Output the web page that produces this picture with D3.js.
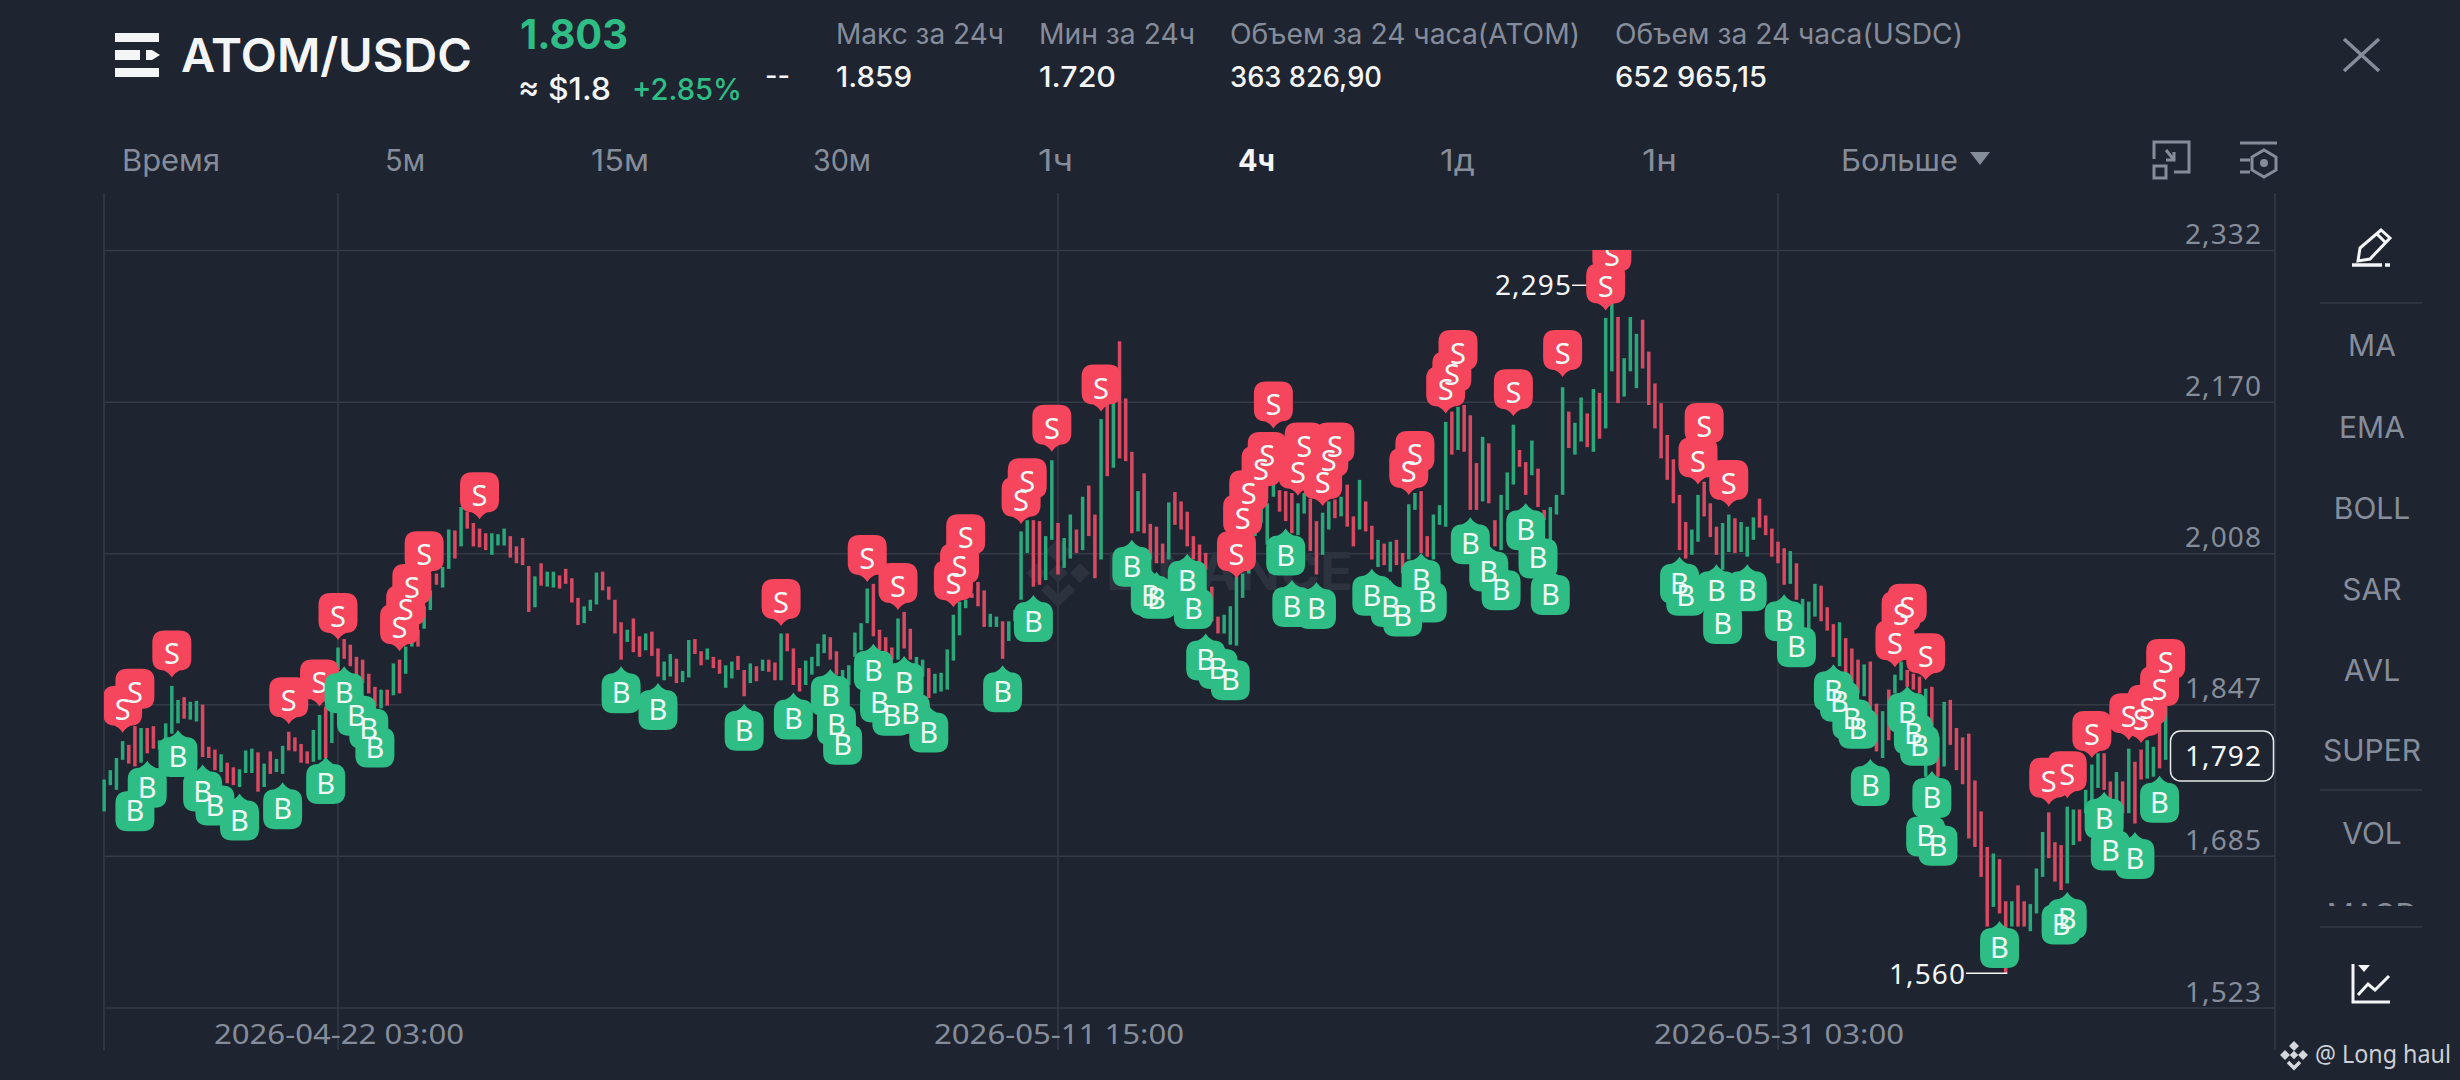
<!DOCTYPE html>
<html><head><meta charset="utf-8">
<style>html,body{margin:0;padding:0;background:#1e2430;overflow:hidden}svg{display:block}</style>
<script src="https://cdn.jsdelivr.net/npm/d3@7"></script></head><body>
<svg id="c" width="2460" height="1080"></svg>
<script>
const priceTicks=[2332,2170,2008,1847,1685,1523];
const timeLabels=["2026-04-22 03:00","2026-05-11 15:00","2026-05-31 03:00"];
const timeIdx=[38,155,272];
const candleHigh=[1767,1777,1790,1808,1804,1824,1822,1822,1824,1809,
1827,1867,1852,1855,1850,1851,1847,1802,1799,1794,
1785,1780,1778,1798,1800,1796,1784,1797,1789,1803,
1818,1812,1805,1797,1820,1836,1845,1843,1908,1917,
1911,1898,1895,1880,1866,1863,1863,1891,1895,1909,
1920,1927,1952,1969,1987,1994,2034,2033,2058,2053,
2041,2035,2030,2030,2029,2035,2027,2016,2025,1995,
1984,1998,1989,1989,1985,1992,1982,1961,1952,1959,
1988,1989,1973,1959,1935,1927,1939,1920,1923,1925,
1907,1893,1901,1896,1883,1916,1917,1904,1907,1898,
1895,1889,1893,1899,1884,1891,1888,1895,1895,1892,
1923,1923,1907,1886,1894,1898,1912,1922,1919,1904,
1884,1889,1924,1934,1971,1976,1927,1919,1908,1939,
1946,1928,1898,1895,1886,1880,1881,1906,1943,1957,
1959,1966,1978,1969,1944,1941,1936,1936,1948,2032,
2044,2044,2043,2027,2108,2041,2025,2050,2034,2069,
2081,2050,2152,2169,2172,2235,2174,2117,2075,2094,
2040,2037,2019,2063,2074,2064,2053,2027,2018,2009,
1973,1941,1943,1952,1984,1987,2030,2044,2073,2062,
2082,2076,2075,2073,2062,2073,2067,2043,2052,2064,
2066,2069,2082,2048,2087,2064,2038,2023,2019,2021,
2023,2009,2061,2073,2075,2027,2050,2060,2149,2160,
2165,2167,2156,2105,2133,2126,2044,2071,2095,2146,
2119,2106,2129,2099,2055,2058,2071,2186,2160,2148,
2175,2158,2184,2180,2260,2295,2261,2217,2261,2243,
2258,2224,2190,2169,2135,2109,2071,2042,2034,2071,
2085,2062,2037,2041,2050,2046,2042,2037,2047,2067,
2049,2035,2021,2014,2011,1998,1960,1957,1976,1974,
1951,1933,1935,1918,1907,1895,1890,1893,1848,1840,
1863,1879,1893,1884,1880,1877,1864,1866,1813,1850,
1852,1822,1812,1816,1766,1733,1695,1688,1682,1637,
1637,1654,1637,1634,1672,1711,1732,1700,1697,1738,
1735,1735,1756,1783,1795,1795,1765,1775,1765,1800,
1786,1799,1809,1802,1845,1845];
const candleLow=[1733,1761,1756,1788,1784,1781,1785,1795,1800,1799,
1809,1816,1827,1832,1831,1829,1791,1790,1777,1775,
1763,1761,1759,1774,1774,1754,1759,1773,1775,1773,
1798,1797,1785,1784,1786,1788,1790,1806,1884,1896,
1888,1877,1870,1859,1845,1843,1846,1857,1859,1880,
1909,1909,1928,1948,1975,1972,1992,2003,2016,2035,
2016,2015,2012,2007,2017,2017,2004,1998,1996,1946,
1951,1974,1973,1972,1971,1976,1956,1932,1934,1947,
1954,1969,1959,1923,1895,1914,1903,1898,1905,1899,
1877,1873,1877,1870,1871,1876,1901,1889,1895,1886,
1880,1865,1875,1884,1856,1870,1872,1883,1882,1873,
1873,1904,1868,1861,1868,1879,1888,1902,1895,1879,
1870,1868,1898,1905,1934,1920,1905,1902,1895,1895,
1907,1895,1888,1877,1854,1859,1861,1863,1894,1921,
1950,1961,1952,1930,1930,1930,1896,1915,1936,1959,
2009,1973,1975,1980,2023,1986,1993,2003,2009,2012,
2027,1982,2002,2091,2100,2110,2107,2030,2032,2030,
2002,1998,1998,2002,2039,2034,2016,2002,1996,1991,
1936,1923,1923,1911,1910,1961,1987,2027,2041,2018,
2069,2053,2043,2030,2028,2051,2011,1986,2007,2034,
2046,2048,2037,2016,2034,2032,2002,1994,1996,1989,
1996,1987,2002,2055,2009,2005,2002,2039,2037,2114,
2119,2117,2055,2055,2064,2062,2016,2012,2055,2082,
2101,2071,2092,2058,2044,2016,2050,2071,2121,2114,
2128,2122,2117,2131,2142,2203,2169,2176,2203,2185,
2206,2167,2142,2110,2087,2062,2012,2003,2007,2021,
2048,2026,2007,1991,2010,2009,2010,2005,2023,2036,
2028,2005,1998,1975,1976,1959,1930,1927,1941,1936,
1926,1898,1888,1877,1864,1859,1856,1841,1797,1790,
1809,1859,1873,1866,1863,1859,1770,1813,1770,1781,
1804,1777,1762,1704,1695,1663,1610,1631,1624,1560,
1610,1610,1610,1605,1624,1663,1683,1658,1649,1656,
1697,1701,1731,1745,1758,1756,1745,1735,1731,1731,
1720,1767,1768,1770,1779,1788];
const candleDir=("GGGGRRGRRG"+"GGGRGGRRRG"+"RRGGGRGRGG"+"RRRRGGRGGR"+"RRRRRGRGRG"+"GRGGRGGRGR"+"RRRGGGRRRR"+"GRGGRRRRGG"+"GRRRRGRRGR"+"RGGRGGRRGR"+"RGGRRGRGRR"+"GRRRGGGGRR"+"GGGGGRRRRG"+"RRGGRGGGGG"+"GRRRGGRGGG"+"GRRGGRGGRG"+"RRGRGRRRGR"+"RRRGRRRRRR"+"RRGGGGGGGG"+"GRRRGGRRGG"+"RGRRGRRGRG"+"RRGGRRGGGR"+"GRRRGRRGGG"+"RRGRRGGGRG"+"GRGRGGRGGG"+"RRRRRRRRGG"+"RRRGGRGGGR"+"RRRRGRGGGR"+"RRGRRRGRRG"+"RGGRRRGRRG"+"RRRRRRRGRR"+"GRRGGGRRRG"+"GRGGGRRGRG"+"RRGGRG").split("");
const sellIdx=[3,5,11,30,35,38,48,49,50,52,61,110,124,129,138,139,140,149,150,154,162,184,185,186,188,189,190,194,195,198,199,200,212,213,218,219,220,229,237,244,245,259,260,264,291,292,293,296,316,319,323,329,331,332,334,335];
const sellPrice=[1817,1835,1876,1826,1845,1916,1904,1924,1947,1982,2045,1931,1978,1948,1951,1969,2000,2040,2060,2117,2160,1982,2021,2047,2073,2088,2142,2070,2098,2059,2083,2098,2071,2089,2158,2174,2197,2155,2197,2268,2302,2082,2119,2058,1887,1918,1926,1873,1740,1747,1790,1809,1806,1818,1838,1867];
const buyIdx=[5,7,12,16,18,22,29,36,39,41,43,44,84,90,104,112,118,119,120,125,126,128,130,131,134,146,151,167,170,171,176,177,179,181,183,192,193,197,206,209,211,214,215,222,225,227,231,233,235,256,257,262,263,267,273,275,281,282,284,285,287,293,294,295,296,297,298,308,318,319,325,326,330,334];
const buyPrice=[1762,1787,1820,1783,1768,1752,1764,1791,1888,1864,1850,1830,1888,1870,1848,1860,1885,1854,1833,1912,1878,1864,1899,1866,1846,1889,1964,2023,1992,1989,2008,1978,1923,1914,1902,2035,1980,1978,1992,1980,1970,2009,1985,2047,2018,1998,2062,2032,1993,2005,1992,1997,1962,1997,1965,1937,1890,1879,1860,1850,1789,1867,1844,1832,1735,1776,1725,1616,1641,1647,1754,1720,1711,1771];
const indicatorLabels=["MA","EMA","BOLL","SAR","AVL","SUPER","VOL","MACD"];
const tabLabels=["Время","5м","15м","30м","1ч","4ч","1д","1н","Больше"];
const lastPrice=1792, highPrice=2295, lowPrice=1560, highIdx=245, lowIdx=309;

const BG="#1e2430",GRID="#343a46",GRAY="#868d9a",GREEN="#2ebd85",RED="#f6465d",WHITE="#f4f5f6";
const UI="Inter, 'Noto Sans', sans-serif", NUM="'Noto Sans', sans-serif";
const svg=d3.select("#c");
svg.append("rect").attr("width",2460).attr("height",1080).attr("fill",BG);
const x=d3.scaleLinear().domain([0,335]).range([104.15,2165.7]);
const y=d3.scaleLinear().domain([2332,1523]).range([250.5,1008]);
const L=104,R=2275,T=193,B=1050;
function txt(s,px,py,size,color,opt={}){
  const t=svg.append("text").attr("x",px).attr("y",py).attr("font-size",size).attr("fill",color)
   .attr("font-family",opt.font||UI).attr("font-weight",opt.weight||400).attr("text-anchor",opt.anchor||"start").text(s);
  if(opt.len){t.attr("textLength",opt.len).attr("lengthAdjust",opt.adjust||"spacingAndGlyphs");}
  return t;
}
// header
svg.append("rect").attr("x",115).attr("y",33).attr("width",44).attr("height",9).attr("fill",WHITE);
svg.append("rect").attr("x",115).attr("y",50).attr("width",25).attr("height",10).attr("fill",WHITE);
svg.append("path").attr("d","M146 50 h6 l8 5 l-8 5 h-6 z").attr("fill",WHITE);
svg.append("rect").attr("x",115).attr("y",68).attr("width",44).attr("height",9).attr("fill",WHITE);
txt("ATOM/USDC",181,72,47,WHITE,{weight:600,len:291});
txt("1.803",520,49,41,GREEN,{weight:700,len:108});
txt("≈ $1.8",518,100,31,WHITE,{weight:500,len:93});
txt("+2.85%",632,100,30,GREEN,{weight:500,len:110});
txt("--",765,86,30,WHITE,{len:25});
const stats=[["Макс за 24ч","1.859",836,168,76],["Мин за 24ч","1.720",1039,156,77],["Объем за 24 часа(ATOM)","363 826,90",1230,350,152],["Объем за 24 часа(USDC)","652 965,15",1615,348,152]];
stats.forEach(d=>{txt(d[0],d[2],44,28,GRAY,{len:d[3]});txt(d[1],d[2],87,28,WHITE,{weight:500,len:d[4]});});
svg.append("path").attr("d","M2344 39 L2379 71 M2379 39 L2344 71").attr("stroke",GRAY).attr("stroke-width",3.5).attr("fill","none");
// tabs
const tabX=[122,385,591,813,1038,1238,1440,1642,1841],tabW=[98,40,58,58,35,37,35,35,117];
tabLabels.forEach((s,i)=>txt(s,tabX[i],171,30,i===5?WHITE:GRAY,{weight:i===5?700:400,len:tabW[i]}));
svg.append("path").attr("d","M1970 152 h20 l-10 13 z").attr("fill",GRAY);
svg.append("path").attr("d","M2154 159 V142 H2189 V172 H2174 M2166 150 L2174 160 M2174 152 V160 H2166").attr("stroke",GRAY).attr("stroke-width",3).attr("fill","none");
svg.append("rect").attr("x",2154).attr("y",166).attr("width",12).attr("height",12).attr("stroke",GRAY).attr("stroke-width",3).attr("fill","none");
svg.append("path").attr("d","M2240 143 H2277 M2240 160 H2250 M2240 172 H2250 M2264 150 L2276 157 V170 L2264 177 L2252 170 V157 Z").attr("stroke",GRAY).attr("stroke-width",3).attr("fill","none");
svg.append("circle").attr("cx",2264).attr("cy",163).attr("r",4).attr("fill",GRAY);
// grid
svg.selectAll(".hg").data(priceTicks).join("line").attr("x1",L).attr("x2",R).attr("y1",d=>y(d)).attr("y2",d=>y(d)).attr("stroke",GRID).attr("stroke-width",1.5);
[L,x(timeIdx[0]),x(timeIdx[1]),x(timeIdx[2]),R].forEach(v=>svg.append("line").attr("x1",v).attr("x2",v).attr("y1",T).attr("y2",B).attr("stroke",GRID).attr("stroke-width",1.5));
// watermark
const WM="#2c323e";
const wm=svg.append("g").attr("transform","translate(1058,573)");
[[0,-22,9],[-22,0,7],[22,0,7],[0,0,7]].forEach(d=>wm.append("rect").attr("x",d[0]-d[2]).attr("y",d[1]-d[2]).attr("width",2*d[2]).attr("height",2*d[2]).attr("transform",`rotate(45 ${d[0]} ${d[1]})`).attr("fill",WM));
wm.append("path").attr("d","M-14 14 L0 28 L14 14").attr("stroke",WM).attr("stroke-width",9).attr("fill","none");
txt("BINANCE",1106,590,52,WM,{weight:700,len:247});
// axis labels
svg.selectAll(".pl").data(priceTicks).join("text").attr("x",2261).attr("y",d=>y(d)-6.5).attr("text-anchor","end").attr("font-family",NUM).attr("font-size",28).attr("fill",GRAY).attr("textLength",76).attr("lengthAdjust","spacing").text(d3.format(","));
timeLabels.forEach((s,i)=>txt(s,x(timeIdx[i])+1,1044,28,GRAY,{font:NUM,anchor:"middle",len:250}));
// candles
const cols={G:"#2aa87a",R:"#d84a62"};
svg.append("g").selectAll("rect").data(candleHigh).join("rect")
 .attr("x",(d,i)=>x(i)-1.75).attr("width",3.5)
 .attr("y",d=>y(d)).attr("height",(d,i)=>y(candleLow[i])-y(d))
 .attr("fill",(d,i)=>cols[candleDir[i]]);
// hi/lo annotations
svg.append("line").attr("x1",1572).attr("x2",x(highIdx)).attr("y1",y(highPrice)).attr("y2",y(highPrice)).attr("stroke",WHITE).attr("stroke-width",1.5);
txt(d3.format(",")(highPrice),1571,295,28,WHITE,{font:NUM,anchor:"end",len:76,adjust:"spacing"});
svg.append("line").attr("x1",1966).attr("x2",x(lowIdx)+1.6).attr("y1",y(lowPrice)).attr("y2",y(lowPrice)).attr("stroke",WHITE).attr("stroke-width",1.5);
txt(d3.format(",")(lowPrice),1965,984,28,WHITE,{font:NUM,anchor:"end",len:76,adjust:"spacing"});
// markers
svg.append("defs").append("clipPath").attr("id","pl").append("rect").attr("x",L).attr("y",250).attr("width",R-L).attr("height",B-250);
const mg=svg.append("g").attr("clip-path","url(#pl)");
function marker(dir){ // dir -1: body above tip; +1: body below tip
  const p=d3.path(),w=19.5,h=40,r=12,t=7,s=dir;
  p.moveTo(0,0);
  p.quadraticCurveTo(3,s*t*.7,8,s*t);
  p.lineTo(w-r,s*t);
  p.quadraticCurveTo(w,s*t,w,s*(t+r));
  p.lineTo(w,s*(t+h-r));
  p.quadraticCurveTo(w,s*(t+h),w-r,s*(t+h));
  p.lineTo(-w+r,s*(t+h));
  p.quadraticCurveTo(-w,s*(t+h),-w,s*(t+h-r));
  p.lineTo(-w,s*(t+r));
  p.quadraticCurveTo(-w,s*t,-w+r,s*t);
  p.lineTo(-8,s*t);
  p.quadraticCurveTo(-3,s*t*.7,0,0);
  p.closePath();return p.toString();
}
function drawMarkers(idx,price,dir,col,label){
  const g=mg.append("g");
  g.selectAll("path").data(idx).join("path").attr("d",marker(dir)).attr("fill",col)
   .attr("transform",(d,i)=>`translate(${x(d)},${y(price[i])})`);
  g.selectAll("text").data(idx).join("text").attr("x",d=>x(d)).attr("y",(d,i)=>y(price[i])+(dir<0?-13:37))
   .attr("text-anchor","middle").attr("font-family",NUM).attr("font-size",29).attr("fill","#eef8f4").text(label);
}
drawMarkers(sellIdx,sellPrice,-1,RED,"S");
drawMarkers(buyIdx,buyPrice,1,GREEN,"B");
// last price box
svg.append("rect").attr("x",2170.5).attr("y",731).attr("width",103).attr("height",50).attr("rx",10).attr("fill",BG).attr("stroke","#e8eaed").attr("stroke-width",1.5);
txt(d3.format(",")(lastPrice),2261,766,28,WHITE,{font:NUM,anchor:"end",len:76,adjust:"spacing"});
// right panel
svg.append("defs").append("clipPath").attr("id","ind").append("rect").attr("x",2300).attr("y",300).attr("width",150).attr("height",606);
const ip=svg.append("g").attr("clip-path","url(#ind)");
const indY=[356,438,519,600,681,761,844,925];
indicatorLabels.forEach((s,i)=>ip.append("text").attr("x",2372).attr("y",indY[i]).attr("text-anchor","middle").attr("font-family",UI).attr("font-size",30).attr("fill",GRAY).text(s));
[303,790,927].forEach(v=>svg.append("line").attr("x1",2320).attr("x2",2422).attr("y1",v).attr("y2",v).attr("stroke",GRID).attr("stroke-width",1.5));
svg.append("path").attr("d","M2360 248 L2381 230 L2390 238 L2370 259 L2358 261 Z M2377 234 L2386 243").attr("stroke",WHITE).attr("stroke-width",3).attr("fill","none");
svg.append("path").attr("d","M2352 265 H2382 M2385 265 H2390").attr("stroke",WHITE).attr("stroke-width",3.5).attr("fill","none");
svg.append("path").attr("d","M2353 964 V1002 H2390 M2358 995 L2368 984 L2375 990 L2389 976").attr("stroke",WHITE).attr("stroke-width",3).attr("fill","none");
svg.append("path").attr("d","M2358 965 H2370 L2364 972 Z").attr("fill",WHITE);
// signature
const lg=svg.append("g").attr("transform","translate(2294,1055)");
[[0,-9,3.5],[-9,0,3.5],[9,0,3.5],[0,0,3]].forEach(d=>lg.append("rect").attr("x",d[0]-d[2]).attr("y",d[1]-d[2]).attr("width",2*d[2]).attr("height",2*d[2]).attr("transform",`rotate(45 ${d[0]} ${d[1]})`).attr("fill","#d4d7db"));
lg.append("path").attr("d","M-6 7 L0 13 L6 7").attr("stroke","#d4d7db").attr("stroke-width",3.5).attr("fill","none");
txt("@ Long haul",2315,1063,25,"#ccd0d5",{font:NUM,len:136});
</script></body></html>
